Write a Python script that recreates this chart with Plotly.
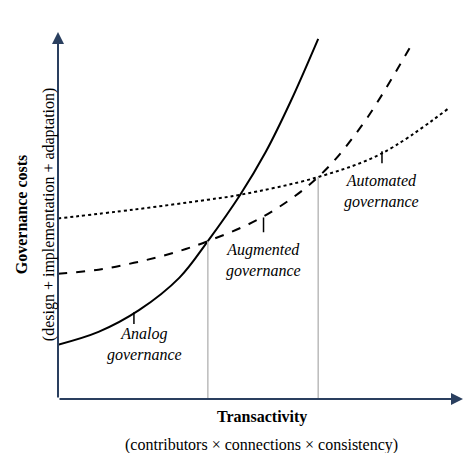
import plotly.graph_objects as go

# curve points (x = transactivity, y = cost, arbitrary units)
analog_x = [0, 40, 80, 120, 148, 180, 205, 230, 257]
analog_y = [55, 68, 90, 123, 160, 207, 250, 302, 365]
augmented_x = [0, 40, 75, 110, 148, 203, 257, 300, 348]
augmented_y = [127, 131, 138, 147, 160, 185, 225, 277, 357]
automated_x = [0, 75, 148, 180, 257, 320, 385]
automated_y = [183, 192, 202, 207, 225, 249, 294]

# leader ticks from curves to labels: (x, y_top, y_bottom)
leaders = [(75, 88, 76), (203, 184, 169), (320, 251, 239)]
labels = ["Analog<br>governance", "Augmented<br>governance", "Automated<br>governance"]
label_pos = [(85, 55), (203, 140), (320, 210)]
drop_lines = [(148, 160), (257, 225)]

fig = go.Figure()
line_font = dict(family="Liberation Serif", size=16, color="black")

for xs, ys, dash in [(analog_x, analog_y, "solid"),
                     (augmented_x, augmented_y, "dash"),
                     (automated_x, automated_y, "dot")]:
    fig.add_trace(go.Scatter(x=xs, y=ys, mode="lines", line_shape="spline",
                             line=dict(color="black", width=2, dash=dash),
                             hoverinfo="skip"))

for x, y in drop_lines:
    fig.add_trace(go.Scatter(x=[x, x], y=[0, y], mode="lines",
                             line=dict(color="#bbbbbb", width=1.5)))

for x, y0, y1 in leaders:
    fig.add_trace(go.Scatter(x=[x, x], y=[y0, y1], mode="lines",
                             line=dict(color="black", width=1.5)))

for txt, (x, y) in zip(labels, label_pos):
    fig.add_annotation(x=x, y=y, text="<i>" + txt + "</i>", showarrow=False,
                       font=line_font)

# axes with arrows
fig.add_annotation(x=0, y=372, ax=0, ay=0, xref="x", yref="y", axref="x", ayref="y",
                   showarrow=True, arrowhead=2, arrowsize=1.2, arrowwidth=2, text="")
fig.add_annotation(x=400, y=0, ax=0, ay=0, xref="x", yref="y", axref="x", ayref="y",
                   showarrow=True, arrowhead=2, arrowsize=1.2, arrowwidth=2, text="")

fig.add_annotation(x=0.5, y=-0.02, xref="paper", yref="paper", showarrow=False,
                   yanchor="top", text="<b>Transactivity</b>", font=line_font)
fig.add_annotation(x=0.5, y=-0.095, xref="paper", yref="paper", showarrow=False,
                   yanchor="top", text="(contributors × connections × consistency)",
                   font=line_font)
fig.add_annotation(x=-0.115, y=0.5, xref="paper", yref="paper", showarrow=False,
                   textangle=-90, text="<b>Governance costs</b>", font=line_font)
fig.add_annotation(x=-0.05, y=0.5, xref="paper", yref="paper", showarrow=False,
                   textangle=-90, text="(design + implementation + adaptation)",
                   font=line_font)

fig.update_xaxes(range=[0, 402], visible=False)
fig.update_yaxes(range=[0, 374], visible=False)
fig.update_layout(width=474, height=453, showlegend=False,
                  margin=dict(l=50, r=17, t=22, b=62),
                  plot_bgcolor="white", paper_bgcolor="white")
fig.write_html("out.html")
